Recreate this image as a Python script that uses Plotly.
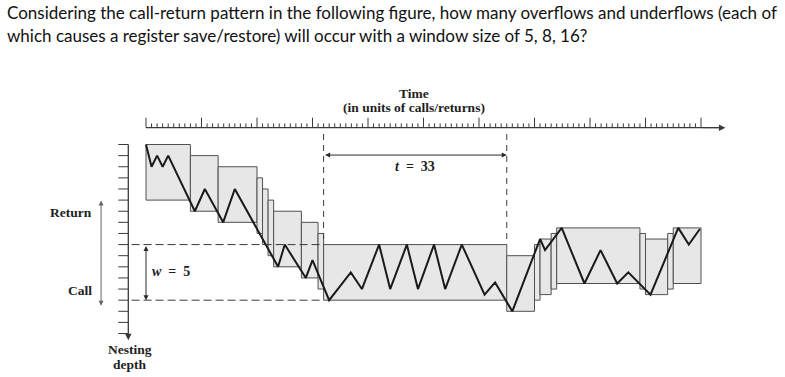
import plotly.graph_objects as go

# ---------------- data ----------------
title_lines = [
    "Considering the call-return pattern in the following figure, how many overflows and underflows (each of",
    "which causes a register save/restore) will occur with a window size of 5, 8, 16?",
]

# call-return trace: time (in units of calls/returns) vs nesting depth
trace_t = [0, 1, 2, 3, 4, 8.8, 10.6, 13.9, 16.0, 23.8, 25.0, 28.8, 30.0, 33.0,
           36.9, 38.9, 42.0, 44.0, 47.0, 49.0, 51.9, 53.9, 56.9, 61.0, 62.9, 66.0,
           71.0, 71.9, 74.9, 79.0, 81.9, 84.9, 86.9, 90.9, 95.9, 97.8, 99.8]
trace_d = [0, 2, 1, 2, 1, 6, 4, 7, 4, 11, 9, 12, 10.4, 14,
           11.5, 13, 9, 13, 9, 13, 9, 13, 9, 13.5, 12.4, 15,
           8.5, 9.5, 7.5, 12.5, 9.5, 12.5, 11.5, 13.5, 7.5, 9, 7.6]

# register windows (boxes): start/end time and top depth
box_start = [0, 8, 13, 20, 21, 22, 23, 28, 31, 32, 65, 70, 71, 73, 74, 89, 90, 94, 95]
box_end = [8, 13, 20, 21, 22, 23, 28, 31, 32, 65, 70, 71, 73, 74, 89, 90, 94, 95, 100]
box_top = [0, 1, 2, 3, 4, 5, 6, 7, 8, 9, 10, 9, 8.5, 8, 7.5, 8, 8.5, 8, 7.5]
window = 5

time_major = list(range(0, 101, 10))
time_minor = [t for t in range(0, 101) if t % 10]
depth_ticks = list(range(0, 18))

t_span = (32, 65)          # t = 33
w_span = (9, 14)           # w = 5

# ---------------- layout geometry ----------------
W, H = 785, 377
PX_T = 5.55      # px per time unit
T0_PX = 146.0
PX_D = 11.12     # px per depth level
D0_PX = 144.5

x_range = [-T0_PX / PX_T, (W - T0_PX) / PX_T]
y_range = [(H - D0_PX) / PX_D, -D0_PX / PX_D]

time_axis_d = -1.51
depth_axis_t = -3.19

fig = go.Figure()
shapes = []

# boxes
for s, e, top in zip(box_start, box_end, box_top):
    shapes.append(dict(type="rect", xref="x", yref="y", x0=s, x1=e, y0=top, y1=top + window,
                       fillcolor="#e7e7e7", line=dict(color="#505050", width=1), layer="below"))

# horizontal dashed lines for w = 5
for d in w_span:
    shapes.append(dict(type="line", xref="x", yref="y", x0=-2.6, x1=t_span[0], y0=d, y1=d,
                       line=dict(color="#3a3a3a", width=1, dash="8px,4px")))
# vertical dashed lines for t = 33
for t in t_span:
    shapes.append(dict(type="line", xref="x", yref="y", x0=t, x1=t, y0=-0.95, y1=w_span[0],
                       line=dict(color="#3a3a3a", width=1, dash="6px,5px")))

# time axis line
shapes.append(dict(type="line", xref="x", yref="y", x0=0, x1=103.5, y0=time_axis_d, y1=time_axis_d,
                   line=dict(color="#3a3a3a", width=1.3)))
# depth axis line
shapes.append(dict(type="line", xref="x", yref="y", x0=depth_axis_t, x1=depth_axis_t, y0=0, y1=17.2,
                   line=dict(color="#3a3a3a", width=1.3)))

# time axis ticks
tx, ty = [], []
for t in time_major:
    tx += [t, t, None]
    ty += [time_axis_d, time_axis_d - 10 / PX_D, None]
for t in time_minor:
    tx += [t, t, None]
    ty += [time_axis_d, time_axis_d - 4.3 / PX_D, None]
fig.add_trace(go.Scatter(x=tx, y=ty, mode="lines", line=dict(color="#3a3a3a", width=1),
                         hoverinfo="skip", showlegend=False))

# depth axis ticks
dx, dy = [], []
for d in depth_ticks:
    dx += [depth_axis_t - 10 / PX_T, depth_axis_t, None]
    dy += [d, d, None]
fig.add_trace(go.Scatter(x=dx, y=dy, mode="lines", line=dict(color="#3a3a3a", width=1),
                         hoverinfo="skip", showlegend=False))

# call-return trace
fig.add_trace(go.Scatter(x=trace_t, y=trace_d, mode="lines",
                         line=dict(color="#1a1a1a", width=2), hoverinfo="skip", showlegend=False))

# ---------------- annotations ----------------
serif = "Liberation Serif"
ann = []


def arrow(x0, y0, x1, y1, both=False, color="#2a2a2a", size=1.0):
    ann.append(dict(x=x1, y=y1, ax=x0, ay=y0, xref="x", yref="y", axref="x", ayref="y",
                    text="", showarrow=True, arrowhead=2, arrowsize=size, arrowwidth=1,
                    arrowcolor=color, arrowside="end+start" if both else "end",
                    standoff=0, startstandoff=0))


# time axis arrow head
arrow(100, time_axis_d, 104.4, time_axis_d, size=1.3, color="#3a3a3a")
# depth axis arrow head
arrow(depth_axis_t, 16.8, depth_axis_t, 17.6, size=1.3, color="#3a3a3a")
# t = 33 dimension
arrow(t_span[0], 0.95, t_span[1], 0.95, both=True)
# w = 5 dimension
arrow(0, w_span[0], 0, w_span[1], both=True)
# Return / Call
arrow(-8.1, 4.9, -8.1, 14.5, both=True, color="#666666")

font_b = dict(family=serif, size=13.5, color="#1e1e1e")


def label(text, x, y, xanchor="center", size=13.5):
    ann.append(dict(x=x, y=y, xref="x", yref="y", text=text, showarrow=False,
                    font=dict(font_b, size=size), xanchor=xanchor, yanchor="middle"))


label("<b>Time</b>", 48.3, -4.63)
label("<b>(in units of calls/returns)</b>", 48.3, -3.37)
label("<b><i>t</i>&nbsp; =&nbsp; 33</b>", 48.4, 2.0, size=14)
label("<b><i>w</i>&nbsp; =&nbsp; 5</b>", 0.8, 11.45, xanchor="left", size=14)
label("<b>Return</b>", -9.4, 6.1, xanchor="right")
label("<b>Call</b>", -9.4, 13.1, xanchor="right")
label("<b>Nesting</b>", -2.9, 18.4)
label("<b>depth</b>", -2.9, 19.75)

# title lines
for i, line in enumerate(title_lines):
    ann.append(dict(x=5 / W, y=1 - (13 + 22 * i) / H, xref="paper", yref="paper", text=line,
                    showarrow=False, xanchor="left", yanchor="middle",
                    font=dict(family="Lato", size=17, color="#111111")))

fig.update_layout(
    width=W, height=H, margin=dict(l=0, r=0, t=0, b=0),
    paper_bgcolor="white", plot_bgcolor="white",
    xaxis=dict(range=x_range, visible=False, fixedrange=True),
    yaxis=dict(range=y_range, visible=False, fixedrange=True),
    shapes=shapes, annotations=ann, showlegend=False,
)

fig.write_html("out.html", config={"displayModeBar": False},
               post_script="document.body.style.margin='0';document.body.style.overflow='hidden';")
